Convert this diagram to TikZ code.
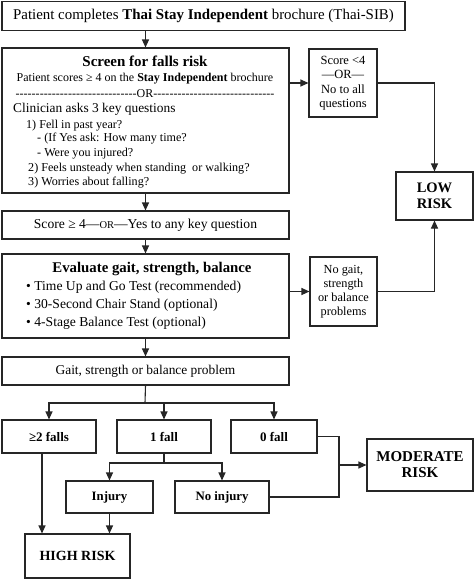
\documentclass[tikz,border=0pt]{standalone}
\usepackage{fontspec}
\setmainfont{Liberation Serif}
\usetikzlibrary{arrows.meta}
\definecolor{lc}{gray}{0.15}
\newcommand{\fs}[2]{\fontsize{#1}{#2}\selectfont}
\tikzset{
  box/.style={draw=lc, line width=1.1pt, inner sep=0pt, align=center, text=black},
  txt/.style={inner sep=0pt, text=black},
  conn/.style={draw=lc, line width=1.1pt},
  arr/.style={conn, -{Triangle[length=8pt,width=7pt]}},
}
\begin{document}
\begin{tikzpicture}[x=1pt,y=-1pt]
\useasboundingbox (0,0) rectangle (474,579);
\fill[white] (0,0) rectangle (474,579);
% boxes
\node[box, minimum width=403pt, minimum height=29pt, font=\fs{14.9}{16}] (top) at (203.5,16) {Patient completes \textbf{Thai Stay Independent} brochure (Thai-SIB)};
\node[box, minimum width=287pt, minimum height=145pt] (screen) at (145.5,120.5) {};
\node[txt, font=\fs{15}{18}\bfseries] (s1) at (145,61) {Screen for falls risk};
\node[txt, font=\fs{12}{14}] (s2) at (145,79) {Patient scores ≥ 4 on the \textbf{Stay Independent} brochure};
\node[txt, font=\fs{12}{14}] (s3) at (145,94) {\makebox[259pt]{\xleaders\hbox{-}\hfill OR\xleaders\hbox{-}\hfill}};
\node[txt, anchor=west, font=\fs{13.4}{16}] (s4) at (13,109) {Clinician asks 3 key questions};
\node[txt, anchor=west, font=\fs{12.1}{14}] (s5) at (26,126) {1) Fell in past year?};
\node[txt, anchor=west, font=\fs{12.1}{14}] (s6) at (37,139) {- (If Yes ask: How many time?};
\node[txt, anchor=west, font=\fs{12.1}{14}] (s7) at (37,154) {- Were you injured?};
\node[txt, anchor=west, font=\fs{12.1}{14}] (s8) at (28,169) {2) Feels unsteady when standing\ \ or walking?};
\node[txt, anchor=west, font=\fs{12.1}{14}] (s9) at (28,183) {3) Worries about falling?};

\node[box, minimum width=68pt, minimum height=68pt, font=\fs{12.5}{14.5}] (lo4) at (343,83) {Score <4\\—OR—\\No to all\\questions};
\node[box, minimum width=77pt, minimum height=48pt, font=\fs{14.5}{16}\bfseries] (low) at (434.5,196) {LOW\\RISK};

\node[box, minimum width=287pt, minimum height=28pt, font=\fs{13.6}{15}] (sc4) at (145.5,225) {Score ≥ 4—{\fs{10.5}{12}OR}—Yes to any key question};

\node[box, minimum width=287pt, minimum height=84pt] (eval) at (145.5,296) {};
\node[txt, font=\fs{14.8}{18}\bfseries] (e1) at (152,269) {Evaluate gait, strength, balance};
\node[txt, anchor=west, font=\fs{13.6}{15}] (e2) at (26,287) {• Time Up and Go Test (recommended)};
\node[txt, anchor=west, font=\fs{13.6}{15}] (e3) at (26,305) {• 30-Second Chair Stand (optional)};
\node[txt, anchor=west, font=\fs{13.6}{15}] (e4) at (26,323) {• 4-Stage Balance Test (optional)};

\node[box, minimum width=67pt, minimum height=69pt, font=\fs{12.3}{14}] (nogait) at (343.5,291.5) {No gait,\\strength\\or balance\\problems};

\node[box, minimum width=287pt, minimum height=28pt, font=\fs{13.4}{14}] (gait) at (145.5,371) {Gait, strength or balance problem};

\node[box, minimum width=94pt, minimum height=33pt, font=\fs{13}{15}\bfseries] (f2) at (49,436.5) {≥2 falls};
\node[box, minimum width=94pt, minimum height=33pt, font=\fs{13}{15}\bfseries] (f1) at (164,436.5) {1 fall};
\node[box, minimum width=86pt, minimum height=33pt, font=\fs{13}{15}\bfseries] (f0) at (274,436.5) {0 fall};

\node[box, minimum width=106pt, minimum height=52pt, font=\fs{15}{16}\bfseries] (mod) at (420,465) {MODERATE\\RISK};

\node[box, minimum width=87pt, minimum height=32pt, font=\fs{12.8}{14}\bfseries] (inj) at (109.5,497) {Injury};
\node[box, minimum width=94pt, minimum height=32pt, font=\fs{12.8}{14}\bfseries] (noinj) at (222,497) {No injury};

\node[box, minimum width=105pt, minimum height=44pt, font=\fs{14}{16}\bfseries] (high) at (77.5,556) {HIGH RISK};

% connectors
\draw[arr] (screen.north |- top.south) -- (screen.north);
\draw[arr] (screen.south) -- (sc4.north);
\draw[arr] (sc4.south) -- (eval.north);
\draw[arr] (eval.south) -- (gait.north);
\draw[arr] (screen.east |- lo4.west) -- (lo4.west);
\draw[arr] (lo4.east) -| (low.north);
\draw[arr] (eval.east |- nogait.west) -- (nogait.west);
\draw[arr] (nogait.east) -| (low.south);

\coordinate (br) at (145,403);
\draw[conn] (gait.south) -- (br);
\draw[arr] (br) -| (f2.north);
\draw[arr] (br) -| (f1.north);
\draw[arr] (br) -| (f0.north);

\coordinate (br2) at (164,463);
\draw[conn] (f1.south) -- (br2);
\draw[arr] (br2) -| (inj.north);
\draw[arr] (br2) -| (noinj.north);

\draw[arr] ([xshift=-7pt]f2.south) -- ([xshift=-7pt]f2.south |- high.north);
\draw[arr] (inj.south) -- (inj.south |- high.north);

\coordinate (j) at (339,465);
\draw[conn] (f0.east) -| (j);
\draw[conn] (noinj.east) -| (j);
\draw[arr] (j) -- (mod.west);
\end{tikzpicture}
\end{document}
